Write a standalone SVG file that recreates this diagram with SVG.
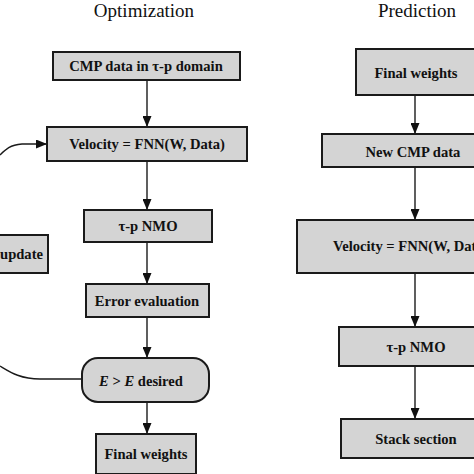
<svg xmlns="http://www.w3.org/2000/svg" width="474" height="474" viewBox="0 0 474 474">
<style>
.box{fill:#d4d4d4;stroke:#1a1a1a;stroke-width:2}
.t{font-family:"Liberation Serif",serif;font-weight:bold;font-size:14.6px;fill:#111;text-anchor:middle}
.h{font-family:"Liberation Serif",serif;font-size:19px;fill:#111;text-anchor:middle}
.c{fill:none;stroke:#1a1a1a;stroke-width:1.4}
</style>
<defs>
<marker id="a" viewBox="0 0 10 10" refX="10" refY="5" markerWidth="11" markerHeight="9" markerUnits="userSpaceOnUse" orient="auto" preserveAspectRatio="none">
<path d="M0,0L10,5L0,10z" fill="#111"/>
</marker>
</defs>
<rect width="474" height="474" fill="#fff"/>
<text class="h" x="144" y="17">Optimization</text>
<text class="h" x="417" y="17">Prediction</text>
<g id="connectors">
<line class="c" x1="147" y1="80" x2="147" y2="127" marker-end="url(#a)"/>
<line class="c" x1="147" y1="161" x2="147" y2="210" marker-end="url(#a)"/>
<line class="c" x1="147" y1="242" x2="147" y2="284" marker-end="url(#a)"/>
<line class="c" x1="147" y1="317" x2="147" y2="358" marker-end="url(#a)"/>
<line class="c" x1="147" y1="402" x2="147" y2="434" marker-end="url(#a)"/>
<line class="c" x1="415" y1="95" x2="415" y2="134" marker-end="url(#a)"/>
<line class="c" x1="415" y1="167" x2="415" y2="220" marker-end="url(#a)"/>
<line class="c" x1="415" y1="273" x2="415" y2="327" marker-end="url(#a)"/>
<line class="c" x1="415" y1="366" x2="415" y2="419" marker-end="url(#a)"/>
<path class="c" d="M82,379 L40,379 C20,379 10,372 0,366"/>
<path class="c" d="M0,155 C6,149 10,145 22,144 L47,144" marker-end="url(#a)"/>
</g>
<g id="n1"><rect class="box" x="53" y="52" width="187" height="28"/><text class="t" x="146" y="71">CMP data in τ-p domain</text></g>
<g id="n2"><rect class="box" x="47" y="127" width="200" height="34"/><text class="t" x="147" y="149">Velocity = FNN(W, Data)</text></g>
<g id="n3"><rect class="box" x="84" y="210" width="128" height="32"/><text class="t" x="148" y="231">τ-p NMO</text></g>
<g id="n4"><rect class="box" x="-10" y="235" width="58" height="38"/><text class="t" x="43" y="259" style="text-anchor:end">update</text></g>
<g id="n5"><rect class="box" x="86" y="284" width="123" height="33"/><text class="t" x="147" y="306">Error evaluation</text></g>
<g id="n6"><rect class="box" x="82" y="358" width="127" height="44" rx="16"/><text class="t" x="141" y="386"><tspan font-style="italic">E</tspan>  &gt; <tspan font-style="italic">E</tspan> desired</text></g>
<g id="n7"><rect class="box" x="96" y="434" width="100" height="40"/><text class="t" x="146" y="459">Final weights</text></g>
<g id="n8"><rect class="box" x="356" y="49" width="130" height="46"/><text class="t" x="416" y="78">Final weights</text></g>
<g id="n9"><rect class="box" x="322" y="134" width="165" height="33"/><text class="t" x="413" y="157">New CMP data</text></g>
<g id="n10"><rect class="box" x="297" y="220" width="190" height="53"/><text class="t" x="333" y="251" style="text-anchor:start">Velocity = FNN(W, Data)</text></g>
<g id="n11"><rect class="box" x="339" y="327" width="148" height="39"/><text class="t" x="416" y="352">τ-p NMO</text></g>
<g id="n12"><rect class="box" x="341" y="419" width="146" height="39"/><text class="t" x="416" y="444">Stack section</text></g>
</svg>
